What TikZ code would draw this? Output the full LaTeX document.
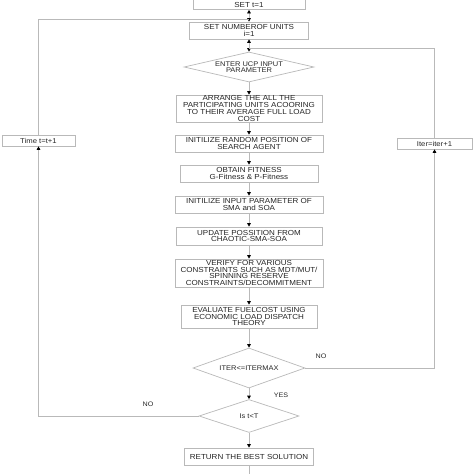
\documentclass[tikz,border=0pt]{standalone}
\usepackage{fontspec}
\setmainfont[FakeStretch=1.1]{Liberation Sans}
\usetikzlibrary{shapes.geometric,arrows.meta}

\begin{document}
\begin{tikzpicture}[x=1pt, y=-1pt,
    box/.style={draw=gray!55, line width=0.7pt, fill=white, align=center,
      inner sep=0pt, text=black!85, font=\fontsize{7.3}{6.7}\selectfont},
    test/.style={diamond, draw=gray!55, line width=0.7pt, fill=white, align=center,
      inner sep=-2pt, text=black!85, font=\fontsize{6.8}{6.7}\selectfont},
    link/.style={draw=gray!55, line width=0.7pt},
    flow/.style={link, -{Triangle[length=3.5pt, width=3.6pt, color=black]}},
    both/.style={link, {Triangle[length=3.5pt, width=3.6pt, color=black]}-{Triangle[length=3.5pt, width=3.6pt, color=black]}},
    tag/.style={text=black!85, font=\fontsize{6.5}{7}\selectfont}]
  \useasboundingbox (0,0) rectangle (474,474);

  % Main column
  \node [box, minimum width=112, minimum height=10] (sett) at (249,4.5) {SET t=1};
  \node [box, minimum width=119, minimum height=17] (units) at (249,30.5) {SET NUMBEROF UNITS\\ i=1};
  \node [test, aspect=4.33, minimum width=130, minimum height=30] (ucp) at (249,67) {ENTER UCP INPUT\\ PARAMETER};
  \node [box, minimum width=146, minimum height=27] (arrange) at (249,108.5)
    {ARRANGE THE ALL THE\\ PARTICIPATING UNITS ACOORING\\ TO THEIR AVERAGE FULL LOAD\\ COST};
  \node [box, minimum width=148, minimum height=17] (search) at (249,143.5) {INITILIZE RANDOM POSITION OF\\ SEARCH AGENT};
  \node [box, minimum width=138, minimum height=17] (fitness) at (249,173.5) {OBTAIN FITNESS\\ G-Fitness \& P-Fitness};
  \node [box, minimum width=148, minimum height=17] (param) at (249,204.5) {INITILIZE INPUT PARAMETER OF\\ SMA and SOA};
  \node [box, minimum width=146, minimum height=18] (update) at (249,236) {UPDATE POSSITION FROM\\ CHAOTIC-SMA-SOA};
  \node [box, minimum width=148, minimum height=28] (verify) at (249,273)
    {VERIFY FOR VARIOUS\\ CONSTRAINTS SUCH AS MDT/MUT/\\ SPINNING RESERVE\\ CONSTRAINTS/DECOMMITMENT};
  \node [box, minimum width=136, minimum height=23] (fuel) at (249,316.5)
    {EVALUATE FUELCOST USING\\ ECONOMIC LOAD DISPATCH\\ THEORY};
  \node [test, aspect=2.8, minimum width=112, minimum height=40] (itermax) at (249,368) {ITER<=ITERMAX};
  \node [test, aspect=3, minimum width=100, minimum height=33] (tlim) at (249,416) {Is t<T};
  \node [box, minimum width=129, minimum height=17] (best) at (249,456.5) {RETURN THE BEST SOLUTION};

  % Counters on the two loops
  \node [box, minimum width=73, minimum height=11, font=\fontsize{7}{7}\selectfont] (time) at (38.5,140.5) {Time t=t+1};
  \node [box, minimum width=75, minimum height=11, font=\fontsize{7}{7}\selectfont] (iter) at (434.5,143.5) {Iter=iter+1};

  % Where the loops join the column
  \coordinate (tjoin) at (249,19);
  \coordinate (ijoin) at (249,48);

  % Arrows down the column
  \draw [both] (sett) -- (units);
  \draw [both] (units) -- (ucp);
  \foreach \a/\b in {ucp/arrange, arrange/search, search/fitness, fitness/param,
      param/update, update/verify, verify/fuel, fuel/itermax, itermax/tlim, tlim/best} {
    \draw [flow] (\a) -- (\b);
  }
  \draw [link] (best.south) -- (249,474);

  % Loops
  \draw [flow] (itermax.east) -| (iter.south);
  \draw [link] (iter.north) |- (ijoin);
  \draw [flow] (tlim.west) -| (time.south);
  \draw [link] (time.north) |- (tjoin);

  % Branch labels
  \node [tag] (noiter) at (321,356) {NO};
  \node [tag] (yes) at (281,395) {YES};
  \node [tag] (not) at (148,404) {NO};
\end{tikzpicture}
\end{document}
